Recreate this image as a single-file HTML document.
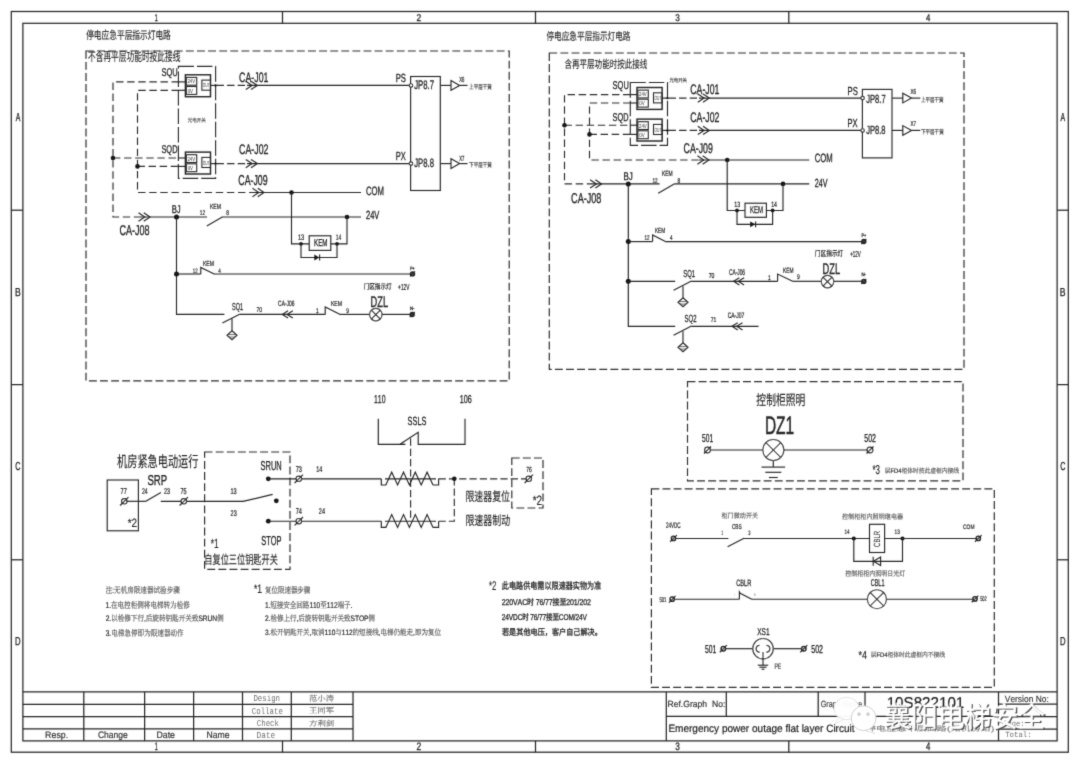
<!DOCTYPE html>
<html lang="zh"><head><meta charset="utf-8"><title>Emergency power outage flat layer Circuit</title>
<style>
html,body{margin:0;padding:0;background:#fff;}
body{width:1080px;height:764px;overflow:hidden;font-family:"Liberation Sans",sans-serif;}
svg{display:block;font-kerning:none;text-rendering:geometricPrecision;}
.wm{fill:none;stroke:#2b2b2b;stroke-width:1.1;}
.ws{fill:none;stroke:#262626;stroke-width:1.45;}
.w{fill:none;stroke:#262626;stroke-width:1.15;}
.tkd{fill:#777;stroke:#222;stroke-width:1.6;}
.tk{fill:#fff;stroke:#222;stroke-width:1.5;}
.tk2{fill:none;stroke:#222;stroke-width:1.4;}
.wt{fill:none;stroke:#444;stroke-width:0.8;}
.wf{fill:#fff;stroke:#262626;stroke-width:1.15;}
.d{fill:#151515;stroke:none;}
.fr{fill:none;stroke:#262626;stroke-width:1.25;}
.da{fill:none;stroke:#2e2e2e;stroke-width:1.2;stroke-dasharray:7.9 3.2;}
.db{fill:none;stroke:#2b2b2b;stroke-width:1.15;stroke-dasharray:7.4 3.7;}
.db2{fill:none;stroke:#2b2b2b;stroke-width:1.15;stroke-dasharray:7.4 3.2;}
.db3{fill:none;stroke:#2b2b2b;stroke-width:1.15;stroke-dasharray:7.2 3.1;}
.dc{fill:none;stroke:#2b2b2b;stroke-width:1.15;stroke-dasharray:15.5 3;}
text{white-space:pre;}
</style></head>
<body>
<svg width="1080" height="764" viewBox="0 0 1080 764">
<defs>
<filter id="soft" x="0" y="0" width="1080" height="764" filterUnits="userSpaceOnUse"><feConvolveMatrix order="3" kernelMatrix="1 6 1 6 36 6 1 6 1" edgeMode="duplicate" preserveAlpha="false"/></filter>
</defs>
<rect x="0" y="0" width="1080" height="764" fill="#fff"/>
<g id="drawing" filter="url(#soft)">
<rect class="fr" x="11.3" y="11.5" width="1057" height="740.7"/>
<rect class="fr" x="22.9" y="23.3" width="1034.2" height="717.6"/>
<path class="fr" d="M282.5 11.5 L282.5 23.3"/>
<path class="fr" d="M282.5 740.9 L282.5 752.2"/>
<path class="fr" d="M535.5 11.5 L535.5 23.3"/>
<path class="fr" d="M535.5 740.9 L535.5 752.2"/>
<path class="fr" d="M788.8 11.5 L788.8 23.3"/>
<path class="fr" d="M788.8 740.9 L788.8 752.2"/>
<path class="fr" d="M11.3 210.2 L22.9 210.2"/>
<path class="fr" d="M1057.1 210.2 L1068.3 210.2"/>
<path class="fr" d="M11.3 384.6 L22.9 384.6"/>
<path class="fr" d="M1057.1 384.6 L1068.3 384.6"/>
<path class="fr" d="M11.3 559.8 L22.9 559.8"/>
<path class="fr" d="M1057.1 559.8 L1068.3 559.8"/>
<text transform="matrix(0.5478 0 0 1 154.74 20.95)" font-family="Liberation Sans" font-size="9.74" fill="#262626" stroke="#262626" stroke-width="0.272" vector-effect="non-scaling-stroke">1</text>
<text transform="matrix(0.4893 0 0 1 154.74 750.25)" font-family="Liberation Sans" font-size="10.90" fill="#262626" stroke="#262626" stroke-width="0.296" vector-effect="non-scaling-stroke">1</text>
<text transform="matrix(0.8791 0 0 1 416.62 20.95)" font-family="Liberation Sans" font-size="9.74" fill="#262626" stroke="#262626" stroke-width="0.272" vector-effect="non-scaling-stroke">2</text>
<text transform="matrix(0.7853 0 0 1 416.62 750.25)" font-family="Liberation Sans" font-size="10.90" fill="#262626" stroke="#262626" stroke-width="0.296" vector-effect="non-scaling-stroke">2</text>
<text transform="matrix(0.8447 0 0 1 675.24 20.95)" font-family="Liberation Sans" font-size="9.74" fill="#262626" stroke="#262626" stroke-width="0.272" vector-effect="non-scaling-stroke">3</text>
<text transform="matrix(0.7546 0 0 1 675.24 750.25)" font-family="Liberation Sans" font-size="10.90" fill="#262626" stroke="#262626" stroke-width="0.296" vector-effect="non-scaling-stroke">3</text>
<text transform="matrix(0.7947 0 0 1 926.07 20.95)" font-family="Liberation Sans" font-size="9.74" fill="#262626" stroke="#262626" stroke-width="0.272" vector-effect="non-scaling-stroke">4</text>
<text transform="matrix(0.7100 0 0 1 926.07 750.25)" font-family="Liberation Sans" font-size="10.90" fill="#262626" stroke="#262626" stroke-width="0.296" vector-effect="non-scaling-stroke">4</text>
<text transform="matrix(0.6041 0 0 1 15.64 121.25)" font-family="Liberation Sans" font-size="11.48" fill="#262626" stroke="#262626" stroke-width="0.308" vector-effect="non-scaling-stroke">A</text>
<text transform="matrix(0.6041 0 0 1 1060.54 121.25)" font-family="Liberation Sans" font-size="11.48" fill="#262626" stroke="#262626" stroke-width="0.308" vector-effect="non-scaling-stroke">A</text>
<text transform="matrix(0.7527 0 0 1 14.94 295.75)" font-family="Liberation Sans" font-size="11.48" fill="#262626" stroke="#262626" stroke-width="0.308" vector-effect="non-scaling-stroke">B</text>
<text transform="matrix(0.7527 0 0 1 1059.84 295.75)" font-family="Liberation Sans" font-size="11.48" fill="#262626" stroke="#262626" stroke-width="0.308" vector-effect="non-scaling-stroke">B</text>
<text transform="matrix(0.6326 0 0 1 15.28 470.45)" font-family="Liberation Sans" font-size="11.48" fill="#262626" stroke="#262626" stroke-width="0.308" vector-effect="non-scaling-stroke">C</text>
<text transform="matrix(0.6326 0 0 1 1060.18 470.45)" font-family="Liberation Sans" font-size="11.48" fill="#262626" stroke="#262626" stroke-width="0.308" vector-effect="non-scaling-stroke">C</text>
<text transform="matrix(0.6764 0 0 1 15.01 645.45)" font-family="Liberation Sans" font-size="11.48" fill="#262626" stroke="#262626" stroke-width="0.308" vector-effect="non-scaling-stroke">D</text>
<text transform="matrix(0.6764 0 0 1 1059.91 645.45)" font-family="Liberation Sans" font-size="11.48" fill="#262626" stroke="#262626" stroke-width="0.308" vector-effect="non-scaling-stroke">D</text>
<rect class="da" x="86" y="51" width="423.2" height="329.9"/>
<text transform="matrix(0.6949 0 0 1 86.14 38.81)" font-family="'Liberation Sans','Noto Sans CJK SC',sans-serif" font-size="11.08" fill="#262626" stroke="#262626" stroke-width="0.12" vector-effect="non-scaling-stroke">停电应急平层指示灯电路</text>
<text transform="matrix(0.6215 0 0 1 88.05 60.78)" font-family="'Liberation Sans','Noto Sans CJK SC',sans-serif" font-size="12.39" fill="#262626" stroke="#262626" stroke-width="0.12" vector-effect="non-scaling-stroke">不含再平层功能时按此接线</text>
<rect class="dc" x="178.4" y="66.4" width="37.2" height="111.9"/>
<text transform="matrix(0.8632 0 0 1 187.80 122.01)" font-family="'Liberation Sans','Noto Sans CJK SC',sans-serif" font-size="5.19" fill="#555" stroke="#555" stroke-width="0.15" vector-effect="non-scaling-stroke">光电开关</text>
<rect class="ws" x="185.4" y="74.8" width="25.1" height="21.9"/><rect class="wm" x="186.3" y="77.4" width="10.4" height="7.8"/><rect class="wm" x="186.3" y="86.5" width="10.4" height="7.9"/><rect class="wm" x="201.9" y="80.1" width="8.6" height="10.1"/>
<text transform="matrix(0.7580 0 0 1 187.38 83.40)" font-family="Liberation Sans" font-size="5.81" fill="#333">24V</text>
<text transform="matrix(0.7582 0 0 1 187.63 92.50)" font-family="Liberation Sans" font-size="5.81" fill="#333">0V</text>
<text transform="matrix(0.5427 0 0 1 202.85 87.20)" font-family="Liberation Sans" font-size="5.96" fill="#333">OUT</text>
<rect class="ws" x="185.4" y="152.1" width="25.1" height="21.9"/><rect class="wm" x="186.3" y="154.7" width="10.4" height="7.8"/><rect class="wm" x="186.3" y="163.8" width="10.4" height="7.9"/><rect class="wm" x="201.9" y="157.4" width="8.6" height="10.1"/>
<text transform="matrix(0.7580 0 0 1 187.38 160.70)" font-family="Liberation Sans" font-size="5.81" fill="#333">24V</text>
<text transform="matrix(0.7582 0 0 1 187.63 169.80)" font-family="Liberation Sans" font-size="5.81" fill="#333">0V</text>
<text transform="matrix(0.5427 0 0 1 202.85 164.50)" font-family="Liberation Sans" font-size="5.96" fill="#333">OUT</text>
<text transform="matrix(0.6730 0 0 1 161.41 75.85)" font-family="Liberation Sans" font-size="11.19" fill="#262626" stroke="#262626" stroke-width="0.302" vector-effect="non-scaling-stroke">SQU</text>
<text transform="matrix(0.6635 0 0 1 161.41 153.05)" font-family="Liberation Sans" font-size="11.19" fill="#262626" stroke="#262626" stroke-width="0.302" vector-effect="non-scaling-stroke">SQD</text>
<path class="db" d="M179 81.9 L113 81.9 L113 217 L140 217"/>
<path class="db" d="M113 158 L179 158"/>
<path class="db" d="M179 90.3 L137.5 90.3 L137.5 192.5 L254 192.5"/>
<path class="db" d="M137.5 166.4 L179 166.4"/>
<path class="w" d="M178.4 81.9 L186.3 81.9"/>
<path class="w" d="M178.4 90.3 L186.3 90.3"/>
<path class="w" d="M178.4 158 L186.3 158"/>
<path class="w" d="M178.4 166.4 L186.3 166.4"/>
<circle class="d" cx="113" cy="158" r="2.3"/>
<circle class="d" cx="137.5" cy="166.4" r="2.3"/>
<path class="w" d="M210.5 85.4 L215.6 85.4"/>
<circle class="d" cx="215.6" cy="85.4" r="1.2"/>
<path class="db2" d="M216.5 85.4 L247 85.4"/>
<path class="w" d="M245.8 81.2 L252.05 85.4 L245.8 89.6"/><path class="w" d="M251.05 81.2 L257.3 85.4 L251.05 89.6"/>
<path class="w" d="M247 85.4 L409.5 85.4"/>
<path class="w" d="M210.5 163.6 L215.6 163.6"/>
<circle class="d" cx="215.6" cy="163.6" r="1.2"/>
<path class="db2" d="M216.5 163.6 L247 163.6"/>
<path class="w" d="M245.8 159.4 L252.05 163.6 L245.8 167.8"/><path class="w" d="M251.05 159.4 L257.3 163.6 L251.05 167.8"/>
<path class="w" d="M247 163.6 L409.5 163.6"/>
<text transform="matrix(0.6448 0 0 1 239.10 81.65)" font-family="Liberation Sans" font-size="13.66" fill="#262626" stroke="#262626" stroke-width="0.353" vector-effect="non-scaling-stroke">CA-J01</text>
<text transform="matrix(0.6383 0 0 1 239.10 154.45)" font-family="Liberation Sans" font-size="13.81" fill="#262626" stroke="#262626" stroke-width="0.356" vector-effect="non-scaling-stroke">CA-J02</text>
<text transform="matrix(0.6120 0 0 1 238.30 185.45)" font-family="Liberation Sans" font-size="14.39" fill="#262626" stroke="#262626" stroke-width="0.368" vector-effect="non-scaling-stroke">CA-J09</text>
<rect class="w" x="410.6" y="76.5" width="29.7" height="114"/>
<circle class="wf" cx="411" cy="85.4" r="1.7"/>
<path class="w" d="M440.3 85.4 L451 85.4"/>
<path class="w" d="M451 80.6 L451 90.2 L459.6 85.4Z"/>
<path class="w" d="M459.6 85.4 L467.5 85.4"/>
<circle class="wf" cx="411" cy="163.6" r="1.7"/>
<path class="w" d="M440.3 163.6 L451 163.6"/>
<path class="w" d="M451 158.8 L451 168.4 L459.6 163.6Z"/>
<path class="w" d="M459.6 163.6 L467.5 163.6"/>
<text transform="matrix(0.6550 0 0 1 395.72 81.85)" font-family="Liberation Sans" font-size="11.77" fill="#262626" stroke="#262626" stroke-width="0.314" vector-effect="non-scaling-stroke">PS</text>
<text transform="matrix(0.6417 0 0 1 395.73 160.45)" font-family="Liberation Sans" font-size="11.77" fill="#262626" stroke="#262626" stroke-width="0.314" vector-effect="non-scaling-stroke">PX</text>
<text transform="matrix(0.6271 0 0 1 414.23 89.45)" font-family="Liberation Sans" font-size="12.35" fill="#262626" stroke="#262626" stroke-width="0.326" vector-effect="non-scaling-stroke">JP8.7</text>
<text transform="matrix(0.6404 0 0 1 414.23 166.85)" font-family="Liberation Sans" font-size="12.06" fill="#262626" stroke="#262626" stroke-width="0.32" vector-effect="non-scaling-stroke">JP8.8</text>
<text transform="matrix(0.5714 0 0 1 459.25 81.65)" font-family="Liberation Sans" font-size="7.41" fill="#262626" stroke="#262626" stroke-width="0.224" vector-effect="non-scaling-stroke">X6</text>
<text transform="matrix(0.5746 0 0 1 459.25 160.65)" font-family="Liberation Sans" font-size="7.41" fill="#262626" stroke="#262626" stroke-width="0.224" vector-effect="non-scaling-stroke">X7</text>
<text transform="matrix(0.7222 0 0 1 469.12 88.69)" font-family="'Liberation Sans','Noto Sans CJK SC',sans-serif" font-size="6.30" fill="#444" stroke="#444" stroke-width="0.15" vector-effect="non-scaling-stroke">上平层干簧</text>
<text transform="matrix(0.7238 0 0 1 469.10 166.89)" font-family="'Liberation Sans','Noto Sans CJK SC',sans-serif" font-size="6.30" fill="#444" stroke="#444" stroke-width="0.15" vector-effect="non-scaling-stroke">下平层干簧</text>
<path class="w" d="M252.5 188.3 L258.75 192.5 L252.5 196.7"/><path class="w" d="M257.75 188.3 L264 192.5 L257.75 196.7"/>
<path class="w" d="M254 192.5 L361 192.5"/>
<circle class="d" cx="291.5" cy="192.5" r="2.3"/>
<text transform="matrix(0.6442 0 0 1 365.96 194.85)" font-family="Liberation Sans" font-size="12.06" fill="#262626" stroke="#262626" stroke-width="0.32" vector-effect="non-scaling-stroke">COM</text>
<path class="w" d="M138.5 212.8 L144.75 217 L138.5 221.2"/><path class="w" d="M143.75 212.8 L150 217 L143.75 221.2"/>
<path class="w" d="M140 217 L207 217"/>
<path class="w" d="M206.8 226 L222.3 217.1"/>
<path class="w" d="M222 217 L361 217"/>
<circle class="d" cx="176.5" cy="217" r="2.5"/>
<circle class="d" cx="347" cy="217" r="2.3"/>
<text transform="matrix(0.6353 0 0 1 365.97 219.45)" font-family="Liberation Sans" font-size="11.77" fill="#262626" stroke="#262626" stroke-width="0.314" vector-effect="non-scaling-stroke">24V</text>
<text transform="matrix(0.6895 0 0 1 171.72 212.85)" font-family="Liberation Sans" font-size="11.19" fill="#262626" stroke="#262626" stroke-width="0.302" vector-effect="non-scaling-stroke">BJ</text>
<text transform="matrix(0.6979 0 0 1 199.79 215.25)" font-family="Liberation Sans" font-size="6.83" fill="#262626" stroke="#262626" stroke-width="0.212" vector-effect="non-scaling-stroke">12</text>
<text transform="matrix(0.6937 0 0 1 209.93 208.65)" font-family="Liberation Sans" font-size="7.41" fill="#262626" stroke="#262626" stroke-width="0.224" vector-effect="non-scaling-stroke">KEM</text>
<text transform="matrix(0.7175 0 0 1 226.14 215.25)" font-family="Liberation Sans" font-size="6.83" fill="#262626" stroke="#262626" stroke-width="0.212" vector-effect="non-scaling-stroke">8</text>
<text transform="matrix(0.6414 0 0 1 119.39 235.25)" font-family="Liberation Sans" font-size="14.10" fill="#262626" stroke="#262626" stroke-width="0.362" vector-effect="non-scaling-stroke">CA-J08</text>
<path class="w" d="M291.5 192.5 L291.5 243.8 L309 243.8"/>
<path class="w" d="M347 217 L347 243.8 L330.8 243.8"/>
<rect class="w" x="309.2" y="235.8" width="21.6" height="14.6"/>
<circle class="d" cx="301" cy="243.8" r="1.9"/>
<circle class="d" cx="337" cy="243.8" r="1.9"/>
<path class="w" d="M301 243.8 L301 257.5 L337 257.5 L337 243.8"/>
<path class="d" d="M314.3 254.6 L314.3 260.4 L319.2 257.5Z"/>
<path class="w" d="M319.6 254.6 L319.6 260.4"/>
<text transform="matrix(0.7186 0 0 1 297.91 240.45)" font-family="Liberation Sans" font-size="7.99" fill="#262626" stroke="#262626" stroke-width="0.236" vector-effect="non-scaling-stroke">13</text>
<text transform="matrix(0.6088 0 0 1 335.78 240.45)" font-family="Liberation Sans" font-size="7.99" fill="#262626" stroke="#262626" stroke-width="0.236" vector-effect="non-scaling-stroke">14</text>
<text transform="matrix(0.6223 0 0 1 314.04 245.65)" font-family="Liberation Sans" font-size="10.03" fill="#262626" stroke="#262626" stroke-width="0.278" vector-effect="non-scaling-stroke">KEM</text>
<path class="w" d="M176.5 217 L176.5 314.4 L224.4 314.4"/>
<circle class="d" cx="176.5" cy="274" r="2.5"/>
<path class="w" d="M176.5 274 L200.8 274"/>
<path class="w" d="M200.8 274 L200.8 267.4 L214.2 274"/>
<path class="w" d="M214 274 L410.5 274"/>
<circle class="tkd" cx="412.5" cy="273.9" r="1.9"/><path class="w" d="M410.03 276.37 L414.97 271.43"/>
<text transform="matrix(0.7262 0 0 1 410.26 269.85)" font-family="Liberation Sans" font-size="4.80" fill="#262626" stroke="#262626" stroke-width="0.3" vector-effect="non-scaling-stroke">P+</text>
<text transform="matrix(0.6669 0 0 1 192.82 272.85)" font-family="Liberation Sans" font-size="6.54" fill="#262626" stroke="#262626" stroke-width="0.206" vector-effect="non-scaling-stroke">12</text>
<text transform="matrix(0.6937 0 0 1 202.93 265.65)" font-family="Liberation Sans" font-size="7.41" fill="#262626" stroke="#262626" stroke-width="0.224" vector-effect="non-scaling-stroke">KEM</text>
<text transform="matrix(0.6978 0 0 1 218.25 272.85)" font-family="Liberation Sans" font-size="6.54" fill="#262626" stroke="#262626" stroke-width="0.206" vector-effect="non-scaling-stroke">4</text>
<path class="w" d="M222.4 323.1 L239.6 314.2"/>
<path class="w" d="M239.4 314.4 L325.2 314.4"/>
<path class="w" d="M292.8 310.8 L287.05 314.4 L292.8 318"/><path class="w" d="M288.05 310.8 L282.3 314.4 L288.05 318"/>
<path class="w" d="M325.2 314.4 L325.2 307 L340.2 314.4"/>
<path class="w" d="M340 314.4 L369.5 314.4"/>
<circle class="wf" cx="375.8" cy="314.6" r="6.2"/><path class="w" d="M371.42 310.22 L380.18 318.98"/><path class="w" d="M371.42 318.98 L380.18 310.22"/>
<path class="w" d="M382 314.4 L410 314.4"/>
<circle class="tkd" cx="412.2" cy="314.5" r="1.9"/><path class="w" d="M409.73 316.97 L414.67 312.03"/>
<text transform="matrix(0.8755 0 0 1 410.01 309.65)" font-family="Liberation Sans" font-size="4.80" fill="#262626" stroke="#262626" stroke-width="0.3" vector-effect="non-scaling-stroke">N-</text>
<path class="w" d="M232 318.6 L232 330.7"/><path class="w" d="M232 330.7 L237 335.2 L232 339.7 L227 335.2Z"/><path class="wt" d="M227 334.6 L237 334.6"/><path class="wt" d="M229 337.09 L235 337.09"/>
<text transform="matrix(0.5491 0 0 1 232.10 309.85)" font-family="Liberation Sans" font-size="10.03" fill="#262626" stroke="#262626" stroke-width="0.278" vector-effect="non-scaling-stroke">SQ1</text>
<text transform="matrix(0.7305 0 0 1 256.49 311.85)" font-family="Liberation Sans" font-size="6.83" fill="#262626" stroke="#262626" stroke-width="0.212" vector-effect="non-scaling-stroke">70</text>
<text transform="matrix(0.6371 0 0 1 278.10 305.85)" font-family="Liberation Sans" font-size="7.70" fill="#262626" stroke="#262626" stroke-width="0.23" vector-effect="non-scaling-stroke">CA-J06</text>
<text transform="matrix(0.5772 0 0 1 316.35 312.85)" font-family="Liberation Sans" font-size="6.83" fill="#262626" stroke="#262626" stroke-width="0.3" vector-effect="non-scaling-stroke">1</text>
<text transform="matrix(0.7076 0 0 1 330.93 305.55)" font-family="Liberation Sans" font-size="7.27" fill="#262626" stroke="#262626" stroke-width="0.221" vector-effect="non-scaling-stroke">KEM</text>
<text transform="matrix(0.6972 0 0 1 346.13 312.85)" font-family="Liberation Sans" font-size="6.83" fill="#262626" stroke="#262626" stroke-width="0.212" vector-effect="non-scaling-stroke">9</text>
<text transform="matrix(0.7789 0 0 1 363.66 289.45)" font-family="'Liberation Sans','Noto Sans CJK SC',sans-serif" font-size="7.19" fill="#262626" stroke="#262626" stroke-width="0.2" vector-effect="non-scaling-stroke">门区指示灯</text>
<text transform="matrix(0.5502 0 0 1 398.12 289.85)" font-family="Liberation Sans" font-size="8.58" fill="#262626" stroke="#262626" stroke-width="0.248" vector-effect="non-scaling-stroke">+12V</text>
<text transform="matrix(0.6095 0 0 1 370.59 306.85)" font-family="Liberation Sans" font-size="15.26" fill="#262626" stroke="#262626" stroke-width="0.386" vector-effect="non-scaling-stroke">DZL</text>
<rect class="da" x="549.3" y="53" width="414.7" height="316.3"/>
<text transform="matrix(0.7183 0 0 1 546.44 39.85)" font-family="'Liberation Sans','Noto Sans CJK SC',sans-serif" font-size="10.65" fill="#262626" stroke="#262626" stroke-width="0.12" vector-effect="non-scaling-stroke">停电应急平层指示灯电路</text>
<text transform="matrix(0.6911 0 0 1 564.44 68.22)" font-family="'Liberation Sans','Noto Sans CJK SC',sans-serif" font-size="10.91" fill="#262626" stroke="#262626" stroke-width="0.12" vector-effect="non-scaling-stroke">含再平层功能时按此接线</text>
<rect class="dc" x="630.3" y="82.5" width="37.2" height="62.9"/>
<text transform="matrix(0.8497 0 0 1 669.40 82.21)" font-family="'Liberation Sans','Noto Sans CJK SC',sans-serif" font-size="5.19" fill="#444" stroke="#444" stroke-width="0.15" vector-effect="non-scaling-stroke">光电开关</text>
<rect class="ws" x="637" y="87.5" width="25.1" height="21.9"/><rect class="wm" x="637.9" y="90.1" width="10.4" height="7.8"/><rect class="wm" x="637.9" y="99.2" width="10.4" height="7.9"/><rect class="wm" x="653.5" y="92.8" width="8.6" height="10.1"/>
<text transform="matrix(0.7580 0 0 1 638.98 96.10)" font-family="Liberation Sans" font-size="5.81" fill="#333">24V</text>
<text transform="matrix(0.7582 0 0 1 639.23 105.20)" font-family="Liberation Sans" font-size="5.81" fill="#333">0V</text>
<text transform="matrix(0.5427 0 0 1 654.45 99.90)" font-family="Liberation Sans" font-size="5.96" fill="#333">OUT</text>
<rect class="ws" x="637" y="119.1" width="25.1" height="21.9"/><rect class="wm" x="637.9" y="121.7" width="10.4" height="7.8"/><rect class="wm" x="637.9" y="130.8" width="10.4" height="7.9"/><rect class="wm" x="653.5" y="124.4" width="8.6" height="10.1"/>
<text transform="matrix(0.7580 0 0 1 638.98 127.70)" font-family="Liberation Sans" font-size="5.81" fill="#333">24V</text>
<text transform="matrix(0.7582 0 0 1 639.23 136.80)" font-family="Liberation Sans" font-size="5.81" fill="#333">0V</text>
<text transform="matrix(0.5427 0 0 1 654.45 131.50)" font-family="Liberation Sans" font-size="5.96" fill="#333">OUT</text>
<text transform="matrix(0.6601 0 0 1 612.61 88.95)" font-family="Liberation Sans" font-size="11.34" fill="#262626" stroke="#262626" stroke-width="0.305" vector-effect="non-scaling-stroke">SQU</text>
<text transform="matrix(0.6508 0 0 1 612.61 120.55)" font-family="Liberation Sans" font-size="11.34" fill="#262626" stroke="#262626" stroke-width="0.305" vector-effect="non-scaling-stroke">SQD</text>
<path class="db" d="M630.5 94.6 L564.5 94.6 L564.5 183.9 L591 183.9"/>
<path class="db" d="M564.5 125.2 L630.5 125.2"/>
<path class="db" d="M630.5 103 L589.5 103 L589.5 160 L699 160"/>
<path class="db" d="M589.5 134.4 L630.5 134.4"/>
<path class="w" d="M630.3 94.6 L637.9 94.6"/>
<path class="w" d="M630.3 103 L637.9 103"/>
<path class="w" d="M630.3 125.2 L637.9 125.2"/>
<path class="w" d="M630.3 134.4 L637.9 134.4"/>
<circle class="d" cx="564.5" cy="125.2" r="2.3"/>
<circle class="d" cx="589.5" cy="134.4" r="2.3"/>
<path class="w" d="M662.1 98.1 L667.5 98.1"/>
<circle class="d" cx="667.5" cy="98.1" r="1.2"/>
<path class="db2" d="M668.5 98.1 L699 98.1"/>
<path class="w" d="M697.8 93.9 L704.05 98.1 L697.8 102.3"/><path class="w" d="M703.05 93.9 L709.3 98.1 L703.05 102.3"/>
<path class="w" d="M699 98.1 L861 98.1"/>
<path class="w" d="M662.1 130.4 L667.5 130.4"/>
<circle class="d" cx="667.5" cy="130.4" r="1.2"/>
<path class="db2" d="M668.5 130.4 L699 130.4"/>
<path class="w" d="M697.8 126.2 L704.05 130.4 L697.8 134.6"/><path class="w" d="M703.05 126.2 L709.3 130.4 L703.05 134.6"/>
<path class="w" d="M699 130.4 L861 130.4"/>
<text transform="matrix(0.6336 0 0 1 690.31 94.45)" font-family="Liberation Sans" font-size="13.81" fill="#262626" stroke="#262626" stroke-width="0.356" vector-effect="non-scaling-stroke">CA-J01</text>
<text transform="matrix(0.6338 0 0 1 690.31 121.55)" font-family="Liberation Sans" font-size="13.81" fill="#262626" stroke="#262626" stroke-width="0.356" vector-effect="non-scaling-stroke">CA-J02</text>
<text transform="matrix(0.6289 0 0 1 683.60 152.85)" font-family="Liberation Sans" font-size="13.95" fill="#262626" stroke="#262626" stroke-width="0.359" vector-effect="non-scaling-stroke">CA-J09</text>
<rect class="w" x="862.4" y="89.4" width="29.6" height="68.5"/>
<circle class="wf" cx="862.6" cy="98.1" r="1.7"/>
<path class="w" d="M892 98.1 L902.8 98.1"/>
<path class="w" d="M902.8 93.3 L902.8 102.9 L911.5 98.1Z"/>
<path class="w" d="M911.5 98.1 L920.3 98.1"/>
<circle class="wf" cx="862.6" cy="130.4" r="1.7"/>
<path class="w" d="M892 130.4 L902.8 130.4"/>
<path class="w" d="M902.8 125.6 L902.8 135.2 L911.5 130.4Z"/>
<path class="w" d="M911.5 130.4 L920.3 130.4"/>
<text transform="matrix(0.6631 0 0 1 847.52 95.15)" font-family="Liberation Sans" font-size="11.63" fill="#262626" stroke="#262626" stroke-width="0.311" vector-effect="non-scaling-stroke">PS</text>
<text transform="matrix(0.6497 0 0 1 847.53 126.95)" font-family="Liberation Sans" font-size="11.63" fill="#262626" stroke="#262626" stroke-width="0.311" vector-effect="non-scaling-stroke">PX</text>
<text transform="matrix(0.6444 0 0 1 866.23 102.85)" font-family="Liberation Sans" font-size="11.77" fill="#262626" stroke="#262626" stroke-width="0.314" vector-effect="non-scaling-stroke">JP8.7</text>
<text transform="matrix(0.6426 0 0 1 866.23 133.85)" font-family="Liberation Sans" font-size="11.77" fill="#262626" stroke="#262626" stroke-width="0.314" vector-effect="non-scaling-stroke">JP8.8</text>
<text transform="matrix(0.6305 0 0 1 910.45 94.25)" font-family="Liberation Sans" font-size="7.27" fill="#262626" stroke="#262626" stroke-width="0.221" vector-effect="non-scaling-stroke">X6</text>
<text transform="matrix(0.6339 0 0 1 910.45 126.35)" font-family="Liberation Sans" font-size="7.27" fill="#262626" stroke="#262626" stroke-width="0.221" vector-effect="non-scaling-stroke">X7</text>
<text transform="matrix(0.7222 0 0 1 920.92 101.69)" font-family="'Liberation Sans','Noto Sans CJK SC',sans-serif" font-size="6.30" fill="#444" stroke="#444" stroke-width="0.15" vector-effect="non-scaling-stroke">上平层干簧</text>
<text transform="matrix(0.7238 0 0 1 920.90 133.89)" font-family="'Liberation Sans','Noto Sans CJK SC',sans-serif" font-size="6.30" fill="#444" stroke="#444" stroke-width="0.15" vector-effect="non-scaling-stroke">下平层干簧</text>
<path class="w" d="M697.4 155.8 L703.65 160 L697.4 164.2"/><path class="w" d="M702.65 155.8 L708.9 160 L702.65 164.2"/>
<path class="w" d="M699 160 L809.3 160"/>
<circle class="d" cx="727.2" cy="160" r="2.3"/>
<text transform="matrix(0.6405 0 0 1 814.66 162.25)" font-family="Liberation Sans" font-size="12.06" fill="#262626" stroke="#262626" stroke-width="0.32" vector-effect="non-scaling-stroke">COM</text>
<path class="w" d="M590.1 179.7 L596.35 183.9 L590.1 188.1"/><path class="w" d="M595.35 179.7 L601.6 183.9 L595.35 188.1"/>
<path class="w" d="M591 183.9 L659.6 183.9"/>
<path class="w" d="M658.2 193.2 L674.6 183.8"/>
<path class="w" d="M674.4 183.9 L809.3 183.9"/>
<circle class="d" cx="628.3" cy="183.9" r="2.5"/>
<circle class="d" cx="783" cy="183.9" r="2.3"/>
<text transform="matrix(0.6107 0 0 1 814.69 186.85)" font-family="Liberation Sans" font-size="11.77" fill="#262626" stroke="#262626" stroke-width="0.314" vector-effect="non-scaling-stroke">24V</text>
<text transform="matrix(0.7160 0 0 1 623.49 179.85)" font-family="Liberation Sans" font-size="11.19" fill="#262626" stroke="#262626" stroke-width="0.302" vector-effect="non-scaling-stroke">BJ</text>
<text transform="matrix(0.6979 0 0 1 652.39 182.65)" font-family="Liberation Sans" font-size="6.83" fill="#262626" stroke="#262626" stroke-width="0.212" vector-effect="non-scaling-stroke">12</text>
<text transform="matrix(0.6540 0 0 1 661.94 175.85)" font-family="Liberation Sans" font-size="7.56" fill="#262626" stroke="#262626" stroke-width="0.227" vector-effect="non-scaling-stroke">KEM</text>
<text transform="matrix(0.7175 0 0 1 677.54 182.65)" font-family="Liberation Sans" font-size="6.83" fill="#262626" stroke="#262626" stroke-width="0.212" vector-effect="non-scaling-stroke">8</text>
<text transform="matrix(0.6391 0 0 1 571.09 202.65)" font-family="Liberation Sans" font-size="14.24" fill="#262626" stroke="#262626" stroke-width="0.365" vector-effect="non-scaling-stroke">CA-J08</text>
<path class="w" d="M727.2 160 L727.2 210.5 L745 210.5"/>
<path class="w" d="M783 183.9 L783 210.5 L766.4 210.5"/>
<rect class="w" x="745" y="203.2" width="21.4" height="14.1"/>
<circle class="d" cx="737" cy="210.5" r="1.9"/>
<circle class="d" cx="772.6" cy="210.5" r="1.9"/>
<path class="w" d="M737 210.5 L737 224.3 L772.6 224.3 L772.6 210.5"/>
<path class="d" d="M750.2 221.4 L750.2 227.2 L755.2 224.3Z"/>
<path class="w" d="M755.6 221.4 L755.6 227.2"/>
<text transform="matrix(0.6934 0 0 1 734.34 207.45)" font-family="Liberation Sans" font-size="7.70" fill="#262626" stroke="#262626" stroke-width="0.23" vector-effect="non-scaling-stroke">13</text>
<text transform="matrix(0.6833 0 0 1 771.15 207.45)" font-family="Liberation Sans" font-size="7.70" fill="#262626" stroke="#262626" stroke-width="0.23" vector-effect="non-scaling-stroke">14</text>
<text transform="matrix(0.6203 0 0 1 750.05 212.85)" font-family="Liberation Sans" font-size="9.74" fill="#262626" stroke="#262626" stroke-width="0.272" vector-effect="non-scaling-stroke">KEM</text>
<path class="w" d="M628.3 183.9 L628.3 326.3 L675.2 326.3"/>
<circle class="d" cx="628.3" cy="241.6" r="2.5"/>
<path class="w" d="M628.3 241.6 L652.6 241.6"/>
<path class="w" d="M652.6 241.6 L652.6 234.9 L665.4 241.6"/>
<path class="w" d="M665.2 241.6 L862 241.6"/>
<circle class="tkd" cx="863.8" cy="241.5" r="1.9"/><path class="w" d="M861.33 243.97 L866.27 239.03"/>
<text transform="matrix(0.7410 0 0 1 861.45 237.25)" font-family="Liberation Sans" font-size="4.94" fill="#262626" stroke="#262626" stroke-width="0.3" vector-effect="non-scaling-stroke">P+</text>
<text transform="matrix(0.6682 0 0 1 644.40 240.25)" font-family="Liberation Sans" font-size="6.83" fill="#262626" stroke="#262626" stroke-width="0.212" vector-effect="non-scaling-stroke">12</text>
<text transform="matrix(0.6398 0 0 1 654.96 233.25)" font-family="Liberation Sans" font-size="7.41" fill="#262626" stroke="#262626" stroke-width="0.224" vector-effect="non-scaling-stroke">KEM</text>
<text transform="matrix(0.6681 0 0 1 670.05 240.25)" font-family="Liberation Sans" font-size="6.83" fill="#262626" stroke="#262626" stroke-width="0.212" vector-effect="non-scaling-stroke">4</text>
<circle class="d" cx="628.3" cy="281.3" r="2.5"/>
<path class="w" d="M628.3 281.3 L675.2 281.3"/>
<path class="w" d="M673.6 290.2 L691.4 281.1"/>
<path class="w" d="M691.2 281.3 L777.6 281.3"/>
<path class="w" d="M744.1 277.7 L738.35 281.3 L744.1 284.9"/><path class="w" d="M739.35 277.7 L733.6 281.3 L739.35 284.9"/>
<path class="w" d="M777.6 281.3 L777.6 274.1 L792.6 281.3"/>
<path class="w" d="M792.4 281.3 L821.2 281.3"/>
<circle class="wf" cx="827.5" cy="281.6" r="6.2"/><path class="w" d="M823.12 277.22 L831.88 285.98"/><path class="w" d="M823.12 285.98 L831.88 277.22"/>
<path class="w" d="M833.7 281.3 L862 281.3"/>
<circle class="tkd" cx="863.8" cy="281.4" r="1.9"/><path class="w" d="M861.33 283.87 L866.27 278.93"/>
<text transform="matrix(0.9204 0 0 1 861.39 276.45)" font-family="Liberation Sans" font-size="4.80" fill="#262626" stroke="#262626" stroke-width="0.3" vector-effect="non-scaling-stroke">N-</text>
<path class="w" d="M683 286.3 L683 297.7"/><path class="w" d="M683 297.7 L688 302.2 L683 306.7 L678 302.2Z"/><path class="wt" d="M678 301.6 L688 301.6"/><path class="wt" d="M680 304.09 L686 304.09"/>
<text transform="matrix(0.5909 0 0 1 683.28 277.25)" font-family="Liberation Sans" font-size="10.03" fill="#262626" stroke="#262626" stroke-width="0.278" vector-effect="non-scaling-stroke">SQ1</text>
<text transform="matrix(0.7282 0 0 1 708.68 277.65)" font-family="Liberation Sans" font-size="7.12" fill="#262626" stroke="#262626" stroke-width="0.218" vector-effect="non-scaling-stroke">70</text>
<text transform="matrix(0.5849 0 0 1 728.90 274.65)" font-family="Liberation Sans" font-size="8.29" fill="#262626" stroke="#262626" stroke-width="0.242" vector-effect="non-scaling-stroke">CA-J06</text>
<text transform="matrix(0.5772 0 0 1 768.25 279.85)" font-family="Liberation Sans" font-size="6.83" fill="#262626" stroke="#262626" stroke-width="0.3" vector-effect="non-scaling-stroke">1</text>
<text transform="matrix(0.6407 0 0 1 782.95 272.95)" font-family="Liberation Sans" font-size="7.56" fill="#262626" stroke="#262626" stroke-width="0.227" vector-effect="non-scaling-stroke">KEM</text>
<text transform="matrix(0.7289 0 0 1 796.92 279.45)" font-family="Liberation Sans" font-size="6.83" fill="#262626" stroke="#262626" stroke-width="0.212" vector-effect="non-scaling-stroke">9</text>
<text transform="matrix(0.7676 0 0 1 814.86 256.23)" font-family="'Liberation Sans','Noto Sans CJK SC',sans-serif" font-size="7.40" fill="#262626" stroke="#262626" stroke-width="0.2" vector-effect="non-scaling-stroke">门区指示灯</text>
<text transform="matrix(0.5199 0 0 1 850.13 256.65)" font-family="Liberation Sans" font-size="8.58" fill="#262626" stroke="#262626" stroke-width="0.248" vector-effect="non-scaling-stroke">+12V</text>
<text transform="matrix(0.6095 0 0 1 822.59 274.05)" font-family="Liberation Sans" font-size="15.26" fill="#262626" stroke="#262626" stroke-width="0.386" vector-effect="non-scaling-stroke">DZL</text>
<path class="w" d="M673.6 335.2 L691.4 326.1"/>
<path class="w" d="M691.2 326.3 L758.5 326.3"/>
<path class="w" d="M742.5 322.7 L736.75 326.3 L742.5 329.9"/><path class="w" d="M737.75 322.7 L732 326.3 L737.75 329.9"/>
<path class="w" d="M683 331.3 L683 342.7"/><path class="w" d="M683 342.7 L688 347.2 L683 351.7 L678 347.2Z"/><path class="wt" d="M678 346.6 L688 346.6"/><path class="wt" d="M680 349.09 L686 349.09"/>
<text transform="matrix(0.5747 0 0 1 684.58 322.05)" font-family="Liberation Sans" font-size="10.32" fill="#262626" stroke="#262626" stroke-width="0.284" vector-effect="non-scaling-stroke">SQ2</text>
<text transform="matrix(0.7375 0 0 1 710.69 321.85)" font-family="Liberation Sans" font-size="6.83" fill="#262626" stroke="#262626" stroke-width="0.212" vector-effect="non-scaling-stroke">71</text>
<text transform="matrix(0.6229 0 0 1 727.70 318.45)" font-family="Liberation Sans" font-size="7.99" fill="#262626" stroke="#262626" stroke-width="0.236" vector-effect="non-scaling-stroke">CA-J07</text>
<text transform="matrix(0.6580 0 0 1 117.11 466.64)" font-family="'Liberation Sans','Noto Sans CJK SC',sans-serif" font-size="15.44" fill="#262626" stroke="#262626" stroke-width="0.12" vector-effect="non-scaling-stroke">机房紧急电动运行</text>
<text transform="matrix(0.6673 0 0 1 147.41 485.25)" font-family="Liberation Sans" font-size="14.39" fill="#262626" stroke="#262626" stroke-width="0.368" vector-effect="non-scaling-stroke">SRP</text>
<rect class="w" x="107.2" y="480" width="31.2" height="50.8"/>
<text transform="matrix(0.6687 0 0 1 120.57 494.05)" font-family="Liberation Sans" font-size="8.29" fill="#262626" stroke="#262626" stroke-width="0.242" vector-effect="non-scaling-stroke">77</text>
<circle class="wf" cx="124.3" cy="501.3" r="2.7"/><path class="w" d="M120.11 505.49 L128.48 497.12"/>
<path class="w" d="M126.6 501.3 L145.6 501.3"/>
<path class="w" d="M145.4 501.4 L160.9 492.4"/>
<path class="w" d="M160.8 501.3 L243.2 501.3"/>
<text transform="matrix(0.6194 0 0 1 141.89 494.05)" font-family="Liberation Sans" font-size="8.29" fill="#262626" stroke="#262626" stroke-width="0.242" vector-effect="non-scaling-stroke">24</text>
<text transform="matrix(0.6521 0 0 1 163.88 494.05)" font-family="Liberation Sans" font-size="8.29" fill="#262626" stroke="#262626" stroke-width="0.242" vector-effect="non-scaling-stroke">23</text>
<text transform="matrix(0.6633 0 0 1 180.57 494.05)" font-family="Liberation Sans" font-size="8.29" fill="#262626" stroke="#262626" stroke-width="0.242" vector-effect="non-scaling-stroke">75</text>
<circle class="wf" cx="183.8" cy="501.3" r="2.7"/><path class="w" d="M179.62 505.49 L187.99 497.12"/>
<text transform="matrix(0.8299 0 0 1 127.69 527.45)" font-family="Liberation Sans" font-size="12.06" fill="#262626" stroke="#262626" stroke-width="0.15" vector-effect="non-scaling-stroke">*2</text>
<rect class="da" x="204.6" y="452" width="85.4" height="117.3"/>
<path class="w" d="M243 501.4 L272.6 494.4"/>
<circle class="d" cx="268.3" cy="478.8" r="2.4"/>
<circle class="d" cx="276.3" cy="500.8" r="2.4"/>
<circle class="d" cx="268.3" cy="521.2" r="2.4"/>
<text transform="matrix(0.5769 0 0 1 260.51 469.85)" font-family="Liberation Sans" font-size="12.94" fill="#262626" stroke="#262626" stroke-width="0.338" vector-effect="non-scaling-stroke">SRUN</text>
<text transform="matrix(0.5744 0 0 1 261.21 544.85)" font-family="Liberation Sans" font-size="12.94" fill="#262626" stroke="#262626" stroke-width="0.338" vector-effect="non-scaling-stroke">STOP</text>
<text transform="matrix(0.6812 0 0 1 230.42 494.05)" font-family="Liberation Sans" font-size="8.29" fill="#262626" stroke="#262626" stroke-width="0.242" vector-effect="non-scaling-stroke">13</text>
<text transform="matrix(0.6639 0 0 1 230.57 516.45)" font-family="Liberation Sans" font-size="8.29" fill="#262626" stroke="#262626" stroke-width="0.242" vector-effect="non-scaling-stroke">23</text>
<text transform="matrix(0.6355 0 0 1 210.71 548.25)" font-family="Liberation Sans" font-size="13.23" fill="#262626" stroke="#262626" stroke-width="0.15" vector-effect="non-scaling-stroke">*1</text>
<text transform="matrix(0.6607 0 0 1 204.28 563.54)" font-family="'Liberation Sans','Noto Sans CJK SC',sans-serif" font-size="12.38" fill="#262626" stroke="#262626" stroke-width="0.12" vector-effect="non-scaling-stroke">自复位三位钥匙开关</text>
<path class="w" d="M268.3 478.8 L381.3 478.8"/>
<path class="w" d="M268.3 521.2 L381.3 521.2"/>
<circle class="wf" cx="298.8" cy="478.8" r="2.7"/><path class="w" d="M294.62 482.99 L302.99 474.62"/>
<circle class="wf" cx="298.8" cy="521.2" r="2.7"/><path class="w" d="M294.62 525.38 L302.99 517.02"/>
<text transform="matrix(0.6764 0 0 1 295.66 472.05)" font-family="Liberation Sans" font-size="8.29" fill="#262626" stroke="#262626" stroke-width="0.242" vector-effect="non-scaling-stroke">73</text>
<text transform="matrix(0.6593 0 0 1 316.33 472.05)" font-family="Liberation Sans" font-size="8.29" fill="#262626" stroke="#262626" stroke-width="0.242" vector-effect="non-scaling-stroke">14</text>
<text transform="matrix(0.6668 0 0 1 295.67 514.05)" font-family="Liberation Sans" font-size="8.29" fill="#262626" stroke="#262626" stroke-width="0.242" vector-effect="non-scaling-stroke">74</text>
<text transform="matrix(0.6662 0 0 1 318.87 514.05)" font-family="Liberation Sans" font-size="8.29" fill="#262626" stroke="#262626" stroke-width="0.242" vector-effect="non-scaling-stroke">24</text>
<path class="w" d="M381.3 478.8 L381.3 485 L386.2 485"/><path class="w" d="M385.8 485 L391.7 472.2 L397.6 485 L403.5 472.2 L409.4 485 L415.3 472.2 L421.2 485 L427.1 472.2 L433 485"/><path class="w" d="M433 485 L438.6 485 L438.6 478.8"/><path class="w" d="M385 478.8 L436 478.8"/>
<path class="w" d="M381.3 521.2 L381.3 527.4 L386.2 527.4"/><path class="w" d="M385.8 527.4 L391.7 514.6 L397.6 527.4 L403.5 514.6 L409.4 527.4 L415.3 514.6 L421.2 527.4 L427.1 514.6 L433 527.4"/><path class="w" d="M433 527.4 L438.6 527.4 L438.6 521.2"/><path class="w" d="M385 521.2 L436 521.2"/>
<path class="db3" d="M438.6 478.8 L526.4 478.8"/>
<path class="db3" d="M438.6 521.2 L454.3 521.2 L454.3 478.8"/>
<circle class="d" cx="454.3" cy="478.8" r="2.3"/>
<text transform="matrix(0.5999 0 0 1 374.03 403.25)" font-family="Liberation Sans" font-size="11.48" fill="#262626" stroke="#262626" stroke-width="0.308" vector-effect="non-scaling-stroke">110</text>
<text transform="matrix(0.6243 0 0 1 459.80 403.25)" font-family="Liberation Sans" font-size="11.48" fill="#262626" stroke="#262626" stroke-width="0.308" vector-effect="non-scaling-stroke">106</text>
<text transform="matrix(0.6235 0 0 1 407.62 425.45)" font-family="Liberation Sans" font-size="11.77" fill="#262626" stroke="#262626" stroke-width="0.314" vector-effect="non-scaling-stroke">SSLS</text>
<path class="w" d="M378.3 418.8 L378.3 444.3 L405.4 444.3"/>
<path class="w" d="M400 444.3 L418.2 432.3 L418.2 444.3 L465 444.3 L465 418.8"/>
<path class="wt" d="M403 444.3 L403 441.6"/>
<path class="db3" d="M410.6 438.5 L410.6 521.2"/>
<text transform="matrix(0.7054 0 0 1 465.39 501.17)" font-family="'Liberation Sans','Noto Sans CJK SC',sans-serif" font-size="12.66" fill="#262626" stroke="#262626" stroke-width="0.12" vector-effect="non-scaling-stroke">限速器复位</text>
<text transform="matrix(0.6981 0 0 1 465.39 525.36)" font-family="'Liberation Sans','Noto Sans CJK SC',sans-serif" font-size="12.82" fill="#262626" stroke="#262626" stroke-width="0.12" vector-effect="non-scaling-stroke">限速器制动</text>
<rect class="da" x="511.8" y="458" width="31.2" height="50"/>
<text transform="matrix(0.6764 0 0 1 526.29 471.65)" font-family="Liberation Sans" font-size="7.41" fill="#262626" stroke="#262626" stroke-width="0.224" vector-effect="non-scaling-stroke">76</text>
<circle class="wf" cx="528.8" cy="478.8" r="2.7"/><path class="w" d="M524.62 482.99 L532.98 474.62"/>
<text transform="matrix(0.7407 0 0 1 532.69 504.65)" font-family="Liberation Sans" font-size="13.52" fill="#262626" stroke="#262626" stroke-width="0.15" vector-effect="non-scaling-stroke">*2</text>
<text transform="matrix(0.8012 0 0 1 105.73 593.12)" font-family="'Liberation Sans','Noto Serif CJK SC',serif" font-size="8.20" fill="#626262" stroke="#626262" stroke-width="0.2" vector-effect="non-scaling-stroke" textLength="92.42" lengthAdjust="spacing">注<tspan fill="#2a2a2a" stroke="#2a2a2a">:</tspan>无机房限速器试验步骤</text>
<text transform="matrix(0.7790 0 0 1 105.50 607.52)" font-family="'Liberation Sans','Noto Serif CJK SC',serif" font-size="8.46" fill="#626262" stroke="#626262" stroke-width="0.2" vector-effect="non-scaling-stroke" textLength="108.23" lengthAdjust="spacing"><tspan fill="#2a2a2a" stroke="#2a2a2a">1.</tspan>在电控柜侧将电梯转为检修</text>
<text transform="matrix(0.8401 0 0 1 105.65 621.31)" font-family="'Liberation Sans','Noto Serif CJK SC',serif" font-size="7.94" fill="#626262" stroke="#626262" stroke-width="0.2" vector-effect="non-scaling-stroke" textLength="140.55" lengthAdjust="spacing"><tspan fill="#2a2a2a" stroke="#2a2a2a">2.</tspan>以检修下行<tspan fill="#2a2a2a" stroke="#2a2a2a">,</tspan>后旋转钥匙开关致<tspan fill="#2a2a2a" stroke="#2a2a2a">SRUN</tspan>侧</text>
<text transform="matrix(0.7973 0 0 1 105.72 635.81)" font-family="'Liberation Sans','Noto Serif CJK SC',serif" font-size="8.29" fill="#626262" stroke="#626262" stroke-width="0.2" vector-effect="non-scaling-stroke" textLength="97.76" lengthAdjust="spacing"><tspan fill="#2a2a2a" stroke="#2a2a2a">3.</tspan>电梯急停即为限速器动作</text>
<text transform="matrix(0.6895 0 0 1 254.01 593.05)" font-family="Liberation Sans" font-size="12.35" fill="#262626" stroke="#262626" stroke-width="0.15" vector-effect="non-scaling-stroke">*1</text>
<text transform="matrix(0.7859 0 0 1 265.04 593.12)" font-family="'Liberation Sans','Noto Serif CJK SC',serif" font-size="8.22" fill="#626262" stroke="#626262" stroke-width="0.2" vector-effect="non-scaling-stroke">复位限速器步骤</text>
<text transform="matrix(0.7883 0 0 1 264.89 607.52)" font-family="'Liberation Sans','Noto Serif CJK SC',serif" font-size="8.41" fill="#626262" stroke="#626262" stroke-width="0.2" vector-effect="non-scaling-stroke" textLength="110.98" lengthAdjust="spacing"><tspan fill="#2a2a2a" stroke="#2a2a2a">1.</tspan>短接安全回路<tspan fill="#2a2a2a" stroke="#2a2a2a">110</tspan>至<tspan fill="#2a2a2a" stroke="#2a2a2a">112</tspan>端子<tspan fill="#2a2a2a" stroke="#2a2a2a">.</tspan></text>
<text transform="matrix(0.8338 0 0 1 265.05 621.31)" font-family="'Liberation Sans','Noto Serif CJK SC',serif" font-size="7.94" fill="#626262" stroke="#626262" stroke-width="0.2" vector-effect="non-scaling-stroke" textLength="131.82" lengthAdjust="spacing"><tspan fill="#2a2a2a" stroke="#2a2a2a">2.</tspan>检修上行<tspan fill="#2a2a2a" stroke="#2a2a2a">,</tspan>后旋转钥匙开关致<tspan fill="#2a2a2a" stroke="#2a2a2a">STOP</tspan>侧</text>
<text transform="matrix(0.8512 0 0 1 265.12 635.34)" font-family="'Liberation Sans','Noto Serif CJK SC',serif" font-size="7.73" fill="#626262" stroke="#626262" stroke-width="0.2" vector-effect="non-scaling-stroke" textLength="206.68" lengthAdjust="spacing"><tspan fill="#2a2a2a" stroke="#2a2a2a">3.</tspan>松开钥匙开关<tspan fill="#2a2a2a" stroke="#2a2a2a">,</tspan>取消<tspan fill="#2a2a2a" stroke="#2a2a2a">110</tspan>与<tspan fill="#2a2a2a" stroke="#2a2a2a">112</tspan>的短接线<tspan fill="#2a2a2a" stroke="#2a2a2a">,</tspan>电梯仍能走<tspan fill="#2a2a2a" stroke="#2a2a2a">,</tspan>即为复位</text>
<text transform="matrix(0.6118 0 0 1 489.03 589.65)" font-family="Liberation Sans" font-size="12.65" fill="#262626" stroke="#262626" stroke-width="0.15" vector-effect="non-scaling-stroke">*2</text>
<text transform="matrix(0.7684 0 0 1 501.87 589.43)" font-family="'Liberation Sans','Noto Sans CJK SC',sans-serif" font-size="9.24" fill="#2a2a2a" stroke="#2a2a2a" stroke-width="0.3" vector-effect="non-scaling-stroke">此电路供电需以限速器实物为准</text>
<text transform="matrix(0.8431 0 0 1 501.83 604.53)" font-family="'Liberation Sans','Noto Sans CJK SC',sans-serif" font-size="8.35" fill="#2a2a2a" stroke="#2a2a2a" stroke-width="0.3" vector-effect="non-scaling-stroke" textLength="105.59" lengthAdjust="spacing">220VAC时 76/77接至201/202</text>
<text transform="matrix(0.7904 0 0 1 501.85 619.73)" font-family="'Liberation Sans','Noto Sans CJK SC',sans-serif" font-size="8.35" fill="#2a2a2a" stroke="#2a2a2a" stroke-width="0.3" vector-effect="non-scaling-stroke" textLength="107.49" lengthAdjust="spacing">24VDC时 76/77接至COM/24V</text>
<text transform="matrix(0.8492 0 0 1 501.96 634.94)" font-family="'Liberation Sans','Noto Sans CJK SC',sans-serif" font-size="8.42" fill="#2a2a2a" stroke="#2a2a2a" stroke-width="0.3" vector-effect="non-scaling-stroke">若是其他电压，客户自己解决。</text>
<rect class="da" x="687.5" y="381.6" width="275.5" height="99.2"/>
<text transform="matrix(0.6899 0 0 1 756.37 404.76)" font-family="'Liberation Sans','Noto Sans CJK SC',sans-serif" font-size="14.19" fill="#262626" stroke="#262626" stroke-width="0.12" vector-effect="non-scaling-stroke">控制柜照明</text>
<text transform="matrix(0.6104 0 0 1 764.88 434.25)" font-family="Liberation Sans" font-size="25.44" fill="#262626" stroke="#262626" stroke-width="0.5" vector-effect="non-scaling-stroke">DZ1</text>
<text transform="matrix(0.5789 0 0 1 702.08 441.85)" font-family="Liberation Sans" font-size="11.48" fill="#262626" stroke="#262626" stroke-width="0.308" vector-effect="non-scaling-stroke">501</text>
<text transform="matrix(0.6125 0 0 1 864.27 441.85)" font-family="Liberation Sans" font-size="11.48" fill="#262626" stroke="#262626" stroke-width="0.308" vector-effect="non-scaling-stroke">502</text>
<circle class="wf" cx="707.5" cy="450" r="2.9"/><path class="w" d="M704.02 453.48 L710.98 446.52"/>
<circle class="wf" cx="870" cy="450" r="2.9"/><path class="w" d="M866.52 453.48 L873.48 446.52"/>
<path class="w" d="M710.1 450 L762.7 450"/>
<path class="w" d="M783.8 450 L867.4 450"/>
<circle class="wf" cx="773.3" cy="450" r="10.5"/><path class="w" d="M765.88 442.58 L780.72 457.42"/><path class="w" d="M765.88 457.42 L780.72 442.58"/>
<path class="w" d="M773.3 460.5 L773.3 467.1"/><path class="w" d="M761.5 467.1 L785.1 467.1"/><path class="w" d="M765.3 472.3 L781.3 472.3"/><path class="w" d="M768.9 477.5 L777.7 477.5"/>
<text transform="matrix(0.6200 0 0 1 872.42 474.25)" font-family="Liberation Sans" font-size="12.94" fill="#262626" stroke="#262626" stroke-width="0.15" vector-effect="non-scaling-stroke">*3</text>
<text transform="matrix(0.8942 0 0 1 884.79 473.08)" font-family="'Liberation Sans','Noto Serif CJK SC',serif" font-size="6.52" fill="#626262" stroke="#626262" stroke-width="0.2" vector-effect="non-scaling-stroke" textLength="83.23" lengthAdjust="spacing">层<tspan fill="#2a2a2a" stroke="#2a2a2a">FD4</tspan>柜体时按此虚框内接线</text>
<rect class="da" x="651.4" y="488.8" width="342.9" height="198.6"/>
<text transform="matrix(0.5705 0 0 1 665.92 528.45)" font-family="Liberation Sans" font-size="7.99" fill="#262626" stroke="#262626" stroke-width="0.236" vector-effect="non-scaling-stroke">24VDC</text>
<circle class="tk" cx="673.5" cy="538.4" r="2.1"/><path class="w" d="M670.14 541.76 L676.86 535.04"/>
<path class="w" d="M675.6 538.5 L728.4 538.5"/>
<path class="w" d="M727.6 546.8 L744 538.3"/>
<path class="w" d="M743.8 538.5 L869.5 538.5"/>
<text transform="matrix(0.4082 0 0 1 721.56 535.25)" font-family="Liberation Sans" font-size="6.25" fill="#262626" stroke="#262626" stroke-width="0.2" vector-effect="non-scaling-stroke">1</text>
<text transform="matrix(0.6412 0 0 1 748.20 535.25)" font-family="Liberation Sans" font-size="6.25" fill="#262626" stroke="#262626" stroke-width="0.2" vector-effect="non-scaling-stroke">3</text>
<text transform="matrix(0.6803 0 0 1 731.91 528.95)" font-family="Liberation Sans" font-size="6.98" fill="#262626" stroke="#262626" stroke-width="0.215" vector-effect="non-scaling-stroke">CBS</text>
<text transform="matrix(0.9106 0 0 1 721.49 518.25)" font-family="'Liberation Sans','Noto Serif CJK SC',serif" font-size="6.71" fill="#626262" stroke="#626262" stroke-width="0.2" vector-effect="non-scaling-stroke">柜门微动开关</text>
<text transform="matrix(0.9107 0 0 1 842.01 519.25)" font-family="'Liberation Sans','Noto Serif CJK SC',serif" font-size="6.72" fill="#626262" stroke="#626262" stroke-width="0.2" vector-effect="non-scaling-stroke">控制柜柜内照明继电器</text>
<text transform="matrix(0.7137 0 0 1 844.39 533.85)" font-family="Liberation Sans" font-size="6.54" fill="#262626" stroke="#262626" stroke-width="0.206" vector-effect="non-scaling-stroke">14</text>
<text transform="matrix(0.7242 0 0 1 894.59 533.85)" font-family="Liberation Sans" font-size="6.54" fill="#262626" stroke="#262626" stroke-width="0.206" vector-effect="non-scaling-stroke">13</text>
<circle class="d" cx="853.8" cy="538.5" r="2.1"/>
<circle class="d" cx="902.5" cy="538.5" r="2.1"/>
<rect class="w" x="869.5" y="524.3" width="15.1" height="28.2"/>
<g transform="translate(880.4 546.6) rotate(-90)"><text transform="matrix(0.6649 0 0 1 -0.30 0.00)" font-family="Liberation Sans" font-size="9.01" fill="#262626">CBLR</text></g>
<path class="w" d="M884.6 538.5 L976 538.5"/>
<path class="w" d="M853.8 538.5 L853.8 561.3 L902.5 561.3 L902.5 538.5"/>
<path class="w" d="M880.6 557 L880.6 565.6 L873.4 561.3Z"/>
<path class="w" d="M873.2 556.8 L873.2 565.8"/>
<text transform="matrix(0.7435 0 0 1 963.10 529.25)" font-family="Liberation Sans" font-size="6.54" fill="#262626" stroke="#262626" stroke-width="0.206" vector-effect="non-scaling-stroke">COM</text>
<circle class="tk" cx="978.3" cy="538.4" r="2.1"/><path class="w" d="M974.94 541.76 L981.66 535.04"/>
<text transform="matrix(0.8649 0 0 1 845.21 576.25)" font-family="'Liberation Sans','Noto Serif CJK SC',serif" font-size="6.96" fill="#626262" stroke="#626262" stroke-width="0.2" vector-effect="non-scaling-stroke">控制柜柜内照明日光灯</text>
<text transform="matrix(0.5686 0 0 1 870.67 586.45)" font-family="Liberation Sans" font-size="9.74" fill="#262626" stroke="#262626" stroke-width="0.272" vector-effect="non-scaling-stroke">CBL1</text>
<circle class="wf" cx="876.9" cy="599.2" r="9.5"/><path class="w" d="M870.18 592.48 L883.62 605.92"/><path class="w" d="M870.18 605.92 L883.62 592.48"/>
<text transform="matrix(0.6024 0 0 1 659.39 602.05)" font-family="Liberation Sans" font-size="6.83" fill="#262626" stroke="#262626" stroke-width="0.212" vector-effect="non-scaling-stroke">501</text>
<circle class="tk" cx="672.2" cy="599.2" r="2.1"/><path class="w" d="M668.84 602.56 L675.56 595.84"/>
<path class="w" d="M674.5 599.2 L739.4 599.2"/>
<path class="w" d="M739.4 599.2 L739.4 591.8 L740.2 593.2 L751.8 599.2"/>
<path class="w" d="M751.6 599.2 L867.4 599.2"/>
<path class="w" d="M886.4 599.2 L972.7 599.2"/>
<circle class="tk" cx="975" cy="598.9" r="2.1"/><path class="w" d="M971.64 602.26 L978.36 595.54"/>
<text transform="matrix(0.5658 0 0 1 980.20 601.45)" font-family="Liberation Sans" font-size="6.83" fill="#262626" stroke="#262626" stroke-width="0.212" vector-effect="non-scaling-stroke">502</text>
<text transform="matrix(0.6161 0 0 1 736.26 586.05)" font-family="Liberation Sans" font-size="9.16" fill="#262626" stroke="#262626" stroke-width="0.26" vector-effect="non-scaling-stroke">CBLR</text>
<text transform="matrix(0.1915 0 0 1 734.50 596.05)" font-family="Liberation Sans" font-size="3.63" fill="#666" stroke="#666" stroke-width="0.146" vector-effect="non-scaling-stroke">1</text>
<text transform="matrix(0.5224 0 0 1 754.28 596.05)" font-family="Liberation Sans" font-size="3.63" fill="#666" stroke="#666" stroke-width="0.146" vector-effect="non-scaling-stroke">3</text>
<text transform="matrix(0.6718 0 0 1 757.20 634.65)" font-family="Liberation Sans" font-size="9.74" fill="#262626" stroke="#262626" stroke-width="0.272" vector-effect="non-scaling-stroke">XS1</text>
<text transform="matrix(0.5899 0 0 1 705.08 653.25)" font-family="Liberation Sans" font-size="11.48" fill="#262626" stroke="#262626" stroke-width="0.308" vector-effect="non-scaling-stroke">501</text>
<text transform="matrix(0.6125 0 0 1 811.27 653.25)" font-family="Liberation Sans" font-size="11.48" fill="#262626" stroke="#262626" stroke-width="0.308" vector-effect="non-scaling-stroke">502</text>
<circle class="tk" cx="723.3" cy="648.7" r="2.2"/><path class="w" d="M719.78 652.22 L726.82 645.18"/>
<circle class="tk" cx="803.8" cy="648.7" r="2.2"/><path class="w" d="M800.28 652.22 L807.32 645.18"/>
<path class="w" d="M725.5 648.7 L752.8 648.7"/>
<path class="w" d="M773.2 648.7 L801.6 648.7"/>
<circle class="wf" cx="763" cy="648.7" r="10.2"/>
<path class="tk2" d="M759.6 645.4 A3.4 3.4 0 0 0 759.6 652.2"/><path class="tk2" d="M766.4 645.4 A3.4 3.4 0 0 1 766.4 652.2"/>
<path class="w" d="M763 652 L763 665.2"/><path class="w" d="M757.8 665.2 L768.2 665.2"/><path class="w" d="M759.4 667.2 L766.6 667.2"/><path class="w" d="M761.5 669.2 L764.5 669.2"/>
<text transform="matrix(0.6415 0 0 1 774.43 668.85)" font-family="Liberation Sans" font-size="7.99" fill="#444" stroke="#444" stroke-width="0.236" vector-effect="non-scaling-stroke">PE</text>
<text transform="matrix(0.7742 0 0 1 858.51 658.65)" font-family="Liberation Sans" font-size="11.48" fill="#262626" stroke="#262626" stroke-width="0.15" vector-effect="non-scaling-stroke">*4</text>
<text transform="matrix(0.8942 0 0 1 870.79 657.28)" font-family="'Liberation Sans','Noto Serif CJK SC',serif" font-size="6.52" fill="#626262" stroke="#626262" stroke-width="0.2" vector-effect="non-scaling-stroke" textLength="83.23" lengthAdjust="spacing">层<tspan fill="#2a2a2a" stroke="#2a2a2a">FD4</tspan>柜体时此虚框内不接线</text>
<path class="fr" d="M22.9 691.9 L1057.1 691.9"/>
<path class="fr" d="M22.9 704.3 L353 704.3"/>
<path class="fr" d="M22.9 716.7 L353 716.7"/>
<path class="fr" d="M22.9 728.9 L353 728.9"/>
<path class="fr" d="M83.8 691.9 L83.8 740.9"/>
<path class="fr" d="M144.6 691.9 L144.6 740.9"/>
<path class="fr" d="M193.6 691.9 L193.6 740.9"/>
<path class="fr" d="M242.5 691.9 L242.5 740.9"/>
<path class="fr" d="M291.3 691.9 L291.3 740.9"/>
<path class="fr" d="M353 691.9 L353 740.9"/>
<text transform="matrix(0.9374 0 0 1 45.07 737.90)" font-family="Liberation Sans" font-size="9.45" fill="#333" stroke="#333" stroke-width="0.2" vector-effect="non-scaling-stroke">Resp.</text>
<text transform="matrix(0.9007 0 0 1 97.97 737.90)" font-family="Liberation Sans" font-size="9.45" fill="#333" stroke="#333" stroke-width="0.2" vector-effect="non-scaling-stroke">Change</text>
<text transform="matrix(0.9274 0 0 1 156.48 737.90)" font-family="Liberation Sans" font-size="9.45" fill="#333" stroke="#333" stroke-width="0.2" vector-effect="non-scaling-stroke">Date</text>
<text transform="matrix(0.9164 0 0 1 206.49 737.90)" font-family="Liberation Sans" font-size="9.45" fill="#333" stroke="#333" stroke-width="0.2" vector-effect="non-scaling-stroke">Name</text>
<text transform="matrix(0.8121 0 0 1 253.41 701.20)" font-family="Liberation Mono" font-size="9.11" fill="#707070">Design</text>
<text transform="matrix(0.8127 0 0 1 251.79 713.60)" font-family="Liberation Mono" font-size="9.11" fill="#707070">Collate</text>
<text transform="matrix(0.8116 0 0 1 256.79 725.80)" font-family="Liberation Mono" font-size="9.11" fill="#707070">Check</text>
<text transform="matrix(0.8567 0 0 1 256.58 738.00)" font-family="Liberation Mono" font-size="9.11" fill="#707070">Date</text>
<text transform="matrix(1.1230 0 0 1 309.07 701.02)" font-family="'Liberation Serif','Noto Serif CJK SC',serif" font-size="7.40" fill="#707070" stroke="#707070" stroke-width="0.15" vector-effect="non-scaling-stroke">范小涛</text>
<text transform="matrix(1.1088 0 0 1 308.98 713.40)" font-family="'Liberation Serif','Noto Serif CJK SC',serif" font-size="7.54" fill="#707070" stroke="#707070" stroke-width="0.15" vector-effect="non-scaling-stroke">王同军</text>
<text transform="matrix(1.1442 0 0 1 309.03 725.80)" font-family="'Liberation Serif','Noto Serif CJK SC',serif" font-size="7.35" fill="#707070" stroke="#707070" stroke-width="0.15" vector-effect="non-scaling-stroke">方利剑</text>
<path class="fr" d="M666.3 691.9 L666.3 740.9"/>
<path class="fr" d="M666.3 716.4 L998.5 716.4"/>
<path class="fr" d="M726.3 691.9 L726.3 716.4"/>
<path class="fr" d="M818.2 691.9 L818.2 716.4"/>
<path class="fr" d="M865 691.9 L865 716.4"/>
<path class="fr" d="M998.5 691.9 L998.5 740.9"/>
<path class="fr" d="M998.5 704.1 L1057.1 704.1"/>
<path class="fr" d="M998.5 716.6 L1057.1 716.6"/>
<path class="fr" d="M998.5 729 L1057.1 729"/>
<text transform="matrix(0.9552 0 0 1 667.49 707.40)" font-family="Liberation Sans" font-size="9.01" fill="#333" stroke="#333" stroke-width="0.2" vector-effect="non-scaling-stroke">Ref.Graph  No:</text>
<text transform="matrix(0.9330 0 0 1 668.38 732.40)" font-family="Liberation Sans" font-size="10.76" fill="#222" stroke="#222" stroke-width="0.2" vector-effect="non-scaling-stroke">Emergency power outage flat layer Circuit</text>
<text transform="matrix(0.8081 0 0 1 820.63 707.40)" font-family="Liberation Sans" font-size="9.01" fill="#444" stroke="#444" stroke-width="0.2" vector-effect="non-scaling-stroke">Graph Name</text>
<text transform="matrix(0.9674 0 0 1 886.64 707.60)" font-family="Liberation Sans" font-size="15.70" fill="#222" stroke="#222" stroke-width="0.2" vector-effect="non-scaling-stroke">10S822101</text>
<text transform="matrix(0.9198 0 0 1 1004.76 701.60)" font-family="Liberation Sans" font-size="9.16" fill="#333" stroke="#333" stroke-width="0.15" vector-effect="non-scaling-stroke">Version No:</text>
<text transform="matrix(0.8724 0 0 1 1003.44 725.90)" font-family="Liberation Mono" font-size="8.05" fill="#707070">Page:</text>
<text transform="matrix(0.9385 0 0 1 1005.13 737.00)" font-family="Liberation Mono" font-size="7.89" fill="#707070">Total:</text>
<text transform="matrix(1.4715 0 0 1 865.93 731.01)" font-family="'Liberation Sans','Noto Serif CJK SC',serif" font-size="6.85" fill="#777" stroke="#777" stroke-width="0.15" vector-effect="non-scaling-stroke" textLength="87.21" lengthAdjust="spacing">停电应急平层回路(无机房用)</text>
<g class="wm"><ellipse cx="846.5" cy="708.5" rx="12.6" ry="11.2" fill="#fff" fill-opacity="0.96" stroke="#d8d8d8" stroke-width="0.7"/><path d="M838.5 717.5 L835.5 723.5 L843.5 719.6Z" fill="#fff" stroke="#dcdcdc" stroke-width="0.6"/><circle cx="863.6" cy="718.2" r="12.4" fill="#fff" stroke="#c4c4c4" stroke-width="0.8"/><path d="M869.5 729 L874.8 733.6 L865.5 730.6Z" fill="#fff" stroke="#cfcfcf" stroke-width="0.6"/><circle cx="859" cy="714.2" r="1.25" fill="#fff" stroke="#8a8a8a" stroke-width="0.6"/><circle cx="868" cy="714.2" r="1.25" fill="#fff" stroke="#8a8a8a" stroke-width="0.6"/></g>
<g><text transform="matrix(0.9453 0 0 1 885.53 727.88)" font-family="'Liberation Sans','Noto Sans CJK SC',sans-serif" font-size="28.34" fill="#3a3a3a" stroke="#3a3a3a" stroke-width="0.25" vector-effect="non-scaling-stroke">襄阳电梯安全</text></g>
<g><text transform="matrix(0.9453 0 0 1 884.28 726.63)" font-family="'Liberation Sans','Noto Sans CJK SC',sans-serif" font-size="28.34" fill="#fff" stroke="#fff" stroke-width="0.2" vector-effect="non-scaling-stroke">襄阳电梯安全</text></g>
</g>
</svg>
</body></html>
